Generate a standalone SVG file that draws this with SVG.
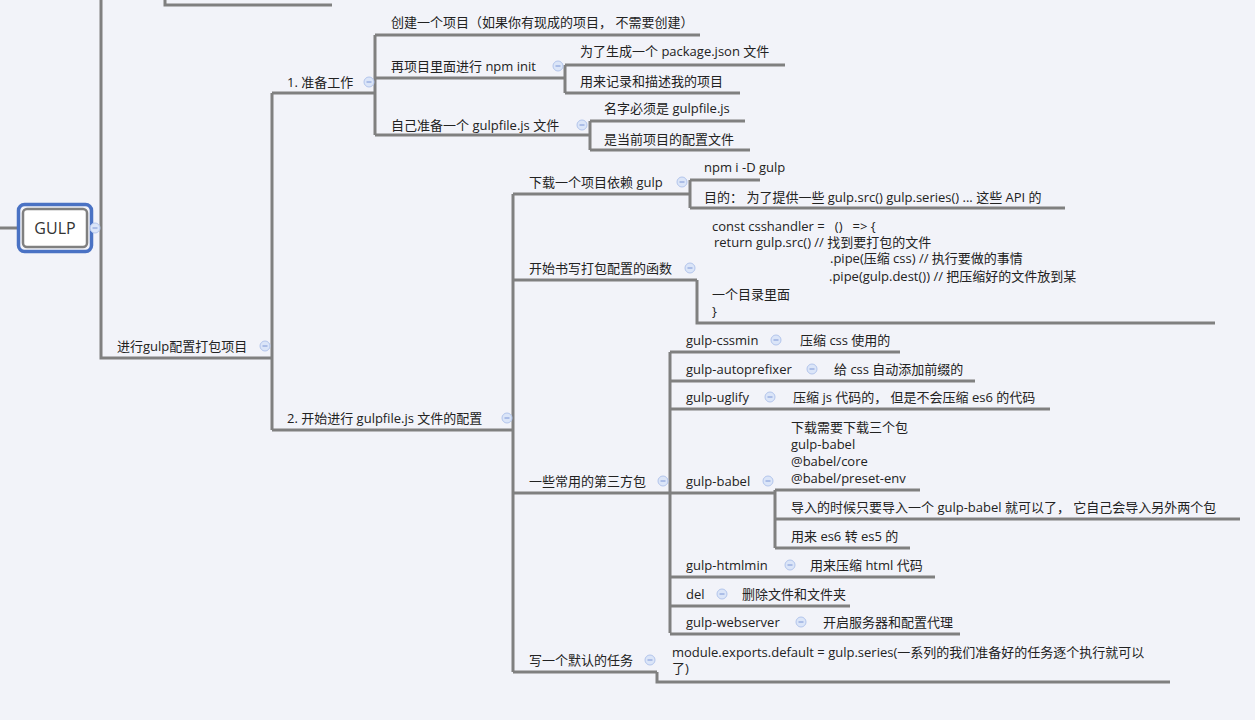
<svg xmlns="http://www.w3.org/2000/svg" width="1255" height="720" viewBox="0 0 1255 720">
<style>
text{font-family:"Open Sans","Noto Sans CJK SC",sans-serif;font-size:13px;fill:#222}
.c{fill:none;stroke:#808080;stroke-width:3}
.i circle{fill:#dbe5f8;stroke:#b3c5ec;stroke-width:1}
.i line{stroke:#7d96d6;stroke-width:1}
</style>
<defs>
<g id="ic" class="i"><circle r="5"/><line x1="-2.5" x2="2.5" y1="0" y2="0"/></g>
</defs>
<rect width="1255" height="720" fill="#f2f3f9"/>
<g id="connectors">
<path class="c" d="M0 228H17M101 0V358H272M165 0V5H332M272 93V430M272 93H375M272 430H513"/>
<path class="c" d="M375 35V135M375 35H700M375 78H565M375 135H590M565 65V93M565 65H785M565 93H740M590 121V150M590 121H745M590 150H750"/>
<path class="c" d="M513 194V672M513 194H690M513 280H697M513 493H670M513 672H657M690 180V208M690 180H760M690 208H1065M697 280V323H1215"/>
<path class="c" d="M670 352V633M670 352H900M670 381H975M670 409H1050M670 493H775M670 577H935M670 606H850M670 634H960M775 490V548M775 490H920M775 519H1240M775 548H910M657 672V682H1170"/>
</g>
<g id="gulp">
<rect x="18.5" y="204.5" width="73" height="47" rx="6" fill="none" stroke="#4a72c4" stroke-width="3.5"/>
<rect x="23" y="209" width="64" height="38" rx="4" fill="#fff" stroke="#808080" stroke-width="2.5"/>
<text x="55" y="234" text-anchor="middle" style="font-size:16px;fill:#333">GULP</text>
<use href="#ic" x="95" y="228"/>
</g>
<g id="n-proj"><text x="117" y="351">进行gulp配置打包项目</text><use href="#ic" x="265" y="346"/></g>
<g id="n-prep"><text x="287" y="87">1. 准备工作</text><use href="#ic" x="369" y="82"/></g>
<g id="n-cfg"><text x="287" y="423">2. 开始进行 gulpfile.js 文件的配置</text><use href="#ic" x="507" y="418"/></g>
<g id="n-create"><text x="391" y="27">创建一个项目（如果你有现成的项目， 不需要创建）</text></g>
<g id="n-init"><text x="391" y="71">再项目里面进行 npm init</text><use href="#ic" x="558" y="66"/></g>
<g id="n-init1"><text x="580" y="56">为了生成一个 package.json 文件</text></g>
<g id="n-init2"><text x="580" y="86">用来记录和描述我的项目</text></g>
<g id="n-gf"><text x="391" y="130">自己准备一个 gulpfile.js 文件</text><use href="#ic" x="582" y="125"/></g>
<g id="n-gf1"><text x="604" y="113">名字必须是 gulpfile.js</text></g>
<g id="n-gf2"><text x="604" y="144">是当前项目的配置文件</text></g>
<g id="n-dl"><text x="529" y="187">下载一个项目依赖 gulp</text><use href="#ic" x="682" y="182"/></g>
<g id="n-dl1"><text x="704" y="172">npm i -D gulp</text></g>
<g id="n-dl2"><text x="704" y="202">目的： 为了提供一些 gulp.src() gulp.series() ... 这些 API 的</text></g>
<g id="n-fn"><text x="529" y="273">开始书写打包配置的函数</text><use href="#ic" x="690" y="268"/></g>
<g id="n-fn1"><text x="712" y="231" xml:space="preserve">const csshandler =   ()   => {</text><text x="714" y="247">return gulp.src() // 找到要打包的文件</text><text x="830" y="263">.pipe(压缩 css) // 执行要做的事情</text><text x="829" y="281">.pipe(gulp.dest()) // 把压缩好的文件放到某</text><text x="712" y="299">一个目录里面</text><text x="712" y="316">}</text></g>
<g id="n-pk"><text x="529" y="486">一些常用的第三方包</text><use href="#ic" x="663" y="481"/></g>
<g id="n-cssmin"><text x="686" y="345">gulp-cssmin</text><use href="#ic" x="776" y="340"/><text x="800" y="345">压缩 css 使用的</text></g>
<g id="n-auto"><text x="686" y="374">gulp-autoprefixer</text><use href="#ic" x="812" y="369"/><text x="834" y="374">给 css 自动添加前缀的</text></g>
<g id="n-ugl"><text x="686" y="402">gulp-uglify</text><use href="#ic" x="770" y="397"/><text x="793" y="402">压缩 js 代码的， 但是不会压缩 es6 的代码</text></g>
<g id="n-babel"><text x="686" y="486">gulp-babel</text><use href="#ic" x="768" y="481"/></g>
<g id="n-babel1"><text x="791" y="432">下载需要下载三个包</text><text x="791" y="449">gulp-babel</text><text x="791" y="466">@babel/core</text><text x="791" y="483">@babel/preset-env</text></g>
<g id="n-babel2"><text x="791" y="512">导入的时候只要导入一个 gulp-babel 就可以了， 它自己会导入另外两个包</text></g>
<g id="n-babel3"><text x="791" y="541">用来 es6 转 es5 的</text></g>
<g id="n-html"><text x="686" y="570">gulp-htmlmin</text><use href="#ic" x="790" y="565"/><text x="810" y="570">用来压缩 html 代码</text></g>
<g id="n-del"><text x="686" y="599">del</text><use href="#ic" x="722" y="594"/><text x="742" y="599">删除文件和文件夹</text></g>
<g id="n-ws"><text x="686" y="627">gulp-webserver</text><use href="#ic" x="801" y="622"/><text x="823" y="627">开启服务器和配置代理</text></g>
<g id="n-def"><text x="529" y="665">写一个默认的任务</text><use href="#ic" x="650" y="660"/></g>
<g id="n-def1"><text x="672" y="657">module.exports.default = gulp.series(一系列的我们准备好的任务逐个执行就可以</text><text x="672" y="673">了)</text></g>
</svg>
